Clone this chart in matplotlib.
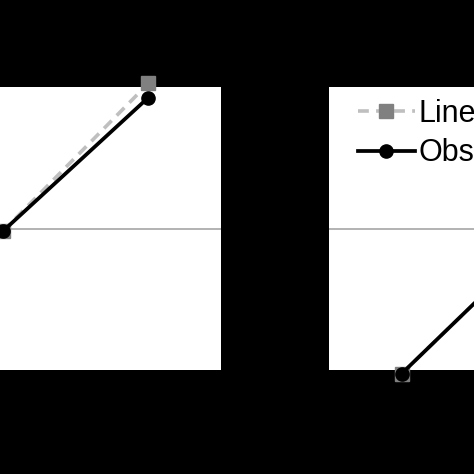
import numpy as np
import matplotlib
matplotlib.use("Agg")
import matplotlib.pyplot as plt

plt.rcParams['font.family'] = ['Liberation Sans', 'DejaVu Sans']

# categories (two conditions per panel)
cats = [0, 1]

# left panel
linear_left = [-0.02, 1.025]
observed_left = [-0.02, 0.925]

# right panel
linear_right = [-1.025, -0.03]
observed_right = [-1.025, -0.03]

W, H = 474, 474
fig = plt.figure(figsize=(W / 100, H / 100), dpi=100, facecolor="black")

def panel(rect, lin, obs, legend=False):
    ax = fig.add_axes(rect)
    ax.set_facecolor("white")
    ax.axhline(0, color="#a6a6a6", lw=1.2, zorder=1)
    ax.plot(cats, lin, color="#bfbfbf", ls=(0, (3, 2)), lw=2.6,
            marker="s", ms=10, mfc="#808080", mec="#808080",
            clip_on=False, zorder=2, label="Linear")
    ax.plot(cats, obs, color="black", lw=2.7, marker="o", ms=9.5,
            clip_on=False, zorder=3, label="Observed")
    ax.set_xlim(-0.5, 1.5)
    ax.set_ylim(-1, 1)
    ax.set_xticks([])
    ax.set_yticks([])
    for s in ax.spines.values():
        s.set_visible(False)
    if legend:
        ax.legend(loc="upper left", bbox_to_anchor=(0.1, 0.957), frameon=False,
                  fontsize=22, borderpad=0, borderaxespad=0, handlelength=1.85,
                  handletextpad=0.12, labelspacing=0.3)
    return ax

panel([-70 / W, 104 / H, 291 / W, 283 / H], linear_left, observed_left)
panel([329 / W, 104 / H, 291 / W, 283 / H], linear_right, observed_right, legend=True)

fig.savefig("out.png", dpi=100, facecolor="black")
